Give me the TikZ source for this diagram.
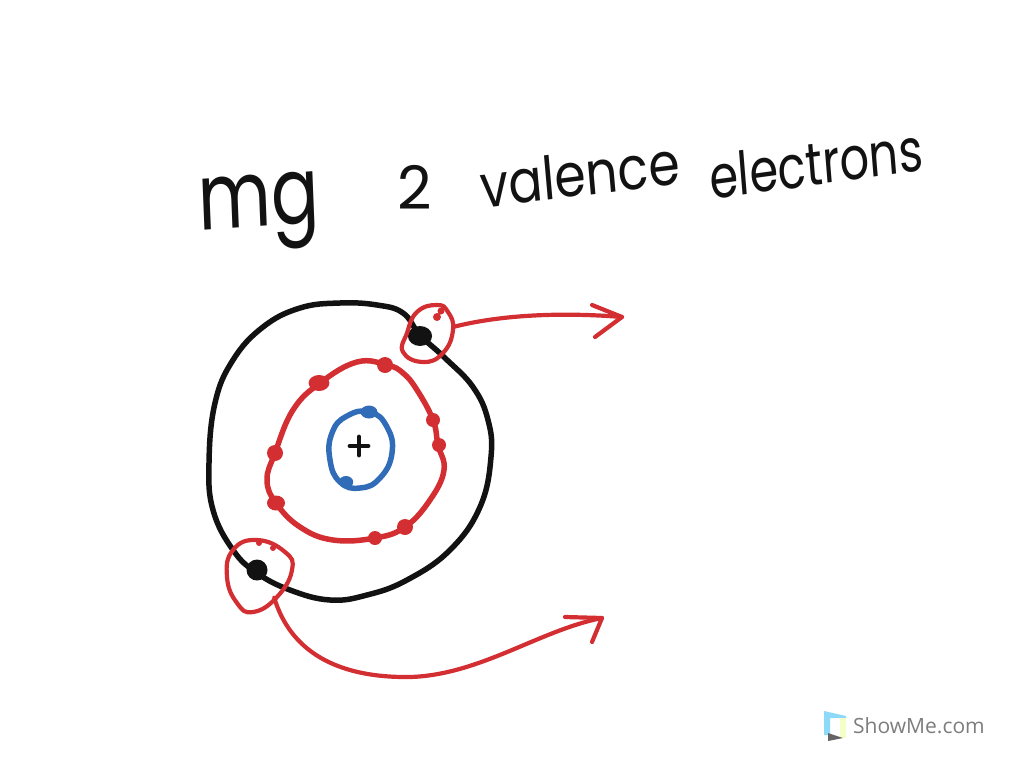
\documentclass[tikz,border=0pt]{standalone}
\usepackage{fontspec}
\setmainfont{Poppins}
\newfontfamily\logofont{Open Sans}
\definecolor{redink}{RGB}{211,47,51}
\definecolor{blueink}{RGB}{48,108,184}
\definecolor{blackink}{RGB}{18,18,18}
\definecolor{logogray}{RGB}{125,125,125}
\tikzset{
  x=1pt,y=-1pt,
  hand/.style={font=\fontsize{60}{60}\selectfont,text=blackink,inner sep=0pt,anchor=center},
  orbit/.style={line width=5.5pt,line cap=round,line join=round},
  dot/.style={circle,inner sep=0pt,minimum size=#1},
  arrowline/.style={redink,line width=4.2pt,line cap=round,line join=round},
}
\begin{document}
\begin{tikzpicture}
\useasboundingbox (0,0) rectangle (1024,768);
% title
\node[hand,xscale=1.18,yscale=1.55,rotate=3] (mg) at (259,213) {mg};
\node[hand,xscale=1.0,yscale=1.0,rotate=0] (two) at (415,187) {2};
\node[hand,xscale=.84,yscale=1.0,rotate=6] (val) at (580,174) {valence};
\node[hand,xscale=.77,yscale=1.0,rotate=6] (ele) at (816,163) {electrons};
% outer shell
\draw[orbit,blackink] plot[smooth cycle,tension=.7] coordinates {(403,313)(377,305)(340,303)(300,308)(263,327)(233,360)(215,403)(209,463)(213,510)(233,550)(257,573)(290,590)(330,600)(367,595)(407,580)(450,550)(480,507)(491,457)(488,420)(473,387)(445,358)(420,335)};
% inner shell
\draw[orbit,redink] plot[smooth cycle,tension=.7] coordinates {(387,365)(357,362)(320,383)(293,410)(275,453)(267,480)(276,503)(300,527)(333,540)(375,538)(405,527)(430,500)(444,470)(438,445)(433,420)(417,390)(403,373)};
% nucleus shell
\draw[orbit,blueink] plot[smooth cycle,tension=.8] coordinates {(370,412)(347,416)(332,433)(330,460)(340,482)(360,488)(380,478)(392,453)(387,427)};
% plus
\node[inner sep=0pt,minimum size=18pt] (plus) at (359,446) {};
\draw[blackink,line width=4.5pt,line cap=round] (plus.west) -- (plus.east);
\draw[blackink,line width=4.5pt,line cap=round] (plus.north) -- (plus.south);
% electrons
\node[dot=16pt,fill=redink,xscale=1.3] (r1) at (319,383) {};
\node[dot=16pt,fill=redink] (r2) at (385,365) {};
\node[dot=14pt,fill=redink] (r3) at (433,420) {};
\node[dot=14pt,fill=redink] (r4) at (439,445) {};
\node[dot=16pt,fill=redink] (r5) at (275,453) {};
\node[dot=15pt,fill=redink,xscale=1.2] (r6) at (276,503) {};
\node[dot=14pt,fill=redink] (r7) at (375,538) {};
\node[dot=16pt,fill=redink] (r8) at (405,527) {};
\node[dot=13pt,fill=blueink,xscale=1.3] (b1) at (369,412) {};
\node[dot=12pt,fill=blueink,xscale=1.2] (b2) at (346,482) {};
\node[dot=21pt,fill=blackink,xscale=1.15,yscale=.95] (v1) at (420,336) {};
\node[dot=21pt,fill=blackink] (v2) at (257,570) {};
% loops
\node[inner sep=0pt,minimum size=1pt] (loop1) at (453,327) {};
\node[inner sep=0pt,minimum size=1pt] (loop2) at (274,597) {};
\draw[arrowline] plot[smooth cycle,tension=.8] coordinates {(437,305)(417,312)(407,333)(403,352)(423,362)(443,353)(453,330)(448,312)};
\draw[arrowline] plot[smooth cycle,tension=.8] coordinates {(257,540)(233,550)(227,577)(237,603)(253,612)(277,597)(292,570)(285,552)};
\fill[redink] (437,317) circle (4) (441,311) circle (3.5);
\fill[redink] (259,543) circle (3) (273,548) circle (3);
% arrows
\coordinate (end1) at (622,317);
\coordinate (end2) at (602,618);
\draw[arrowline] (loop1) .. controls (500,315) and (560,312) .. (end1);
\draw[arrowline] (592,305) -- (end1) -- (595,337);
\draw[arrowline] (loop2) .. controls (290,650) and (335,678) .. (410,677) .. controls (480,675) and (540,630) .. (end2);
\draw[arrowline] (565,617) -- (end2) -- (592,642);
% logo
\fill[cyan!45!white] (824,711) -- (846,716) -- (846,718) -- (830,718) -- (830,735) -- (824,735) -- cycle;
\fill[green!20!yellow!22!white] (840,718) rectangle (846,738);
\fill[logogray!80!black] (828,733) -- (843,738) -- (828,741) -- cycle;
\node[font=\logofont\fontsize{21}{21}\selectfont,text=logogray,inner sep=0pt,anchor=west] (logo) at (853,726) {ShowMe.com};
\end{tikzpicture}
\end{document}
